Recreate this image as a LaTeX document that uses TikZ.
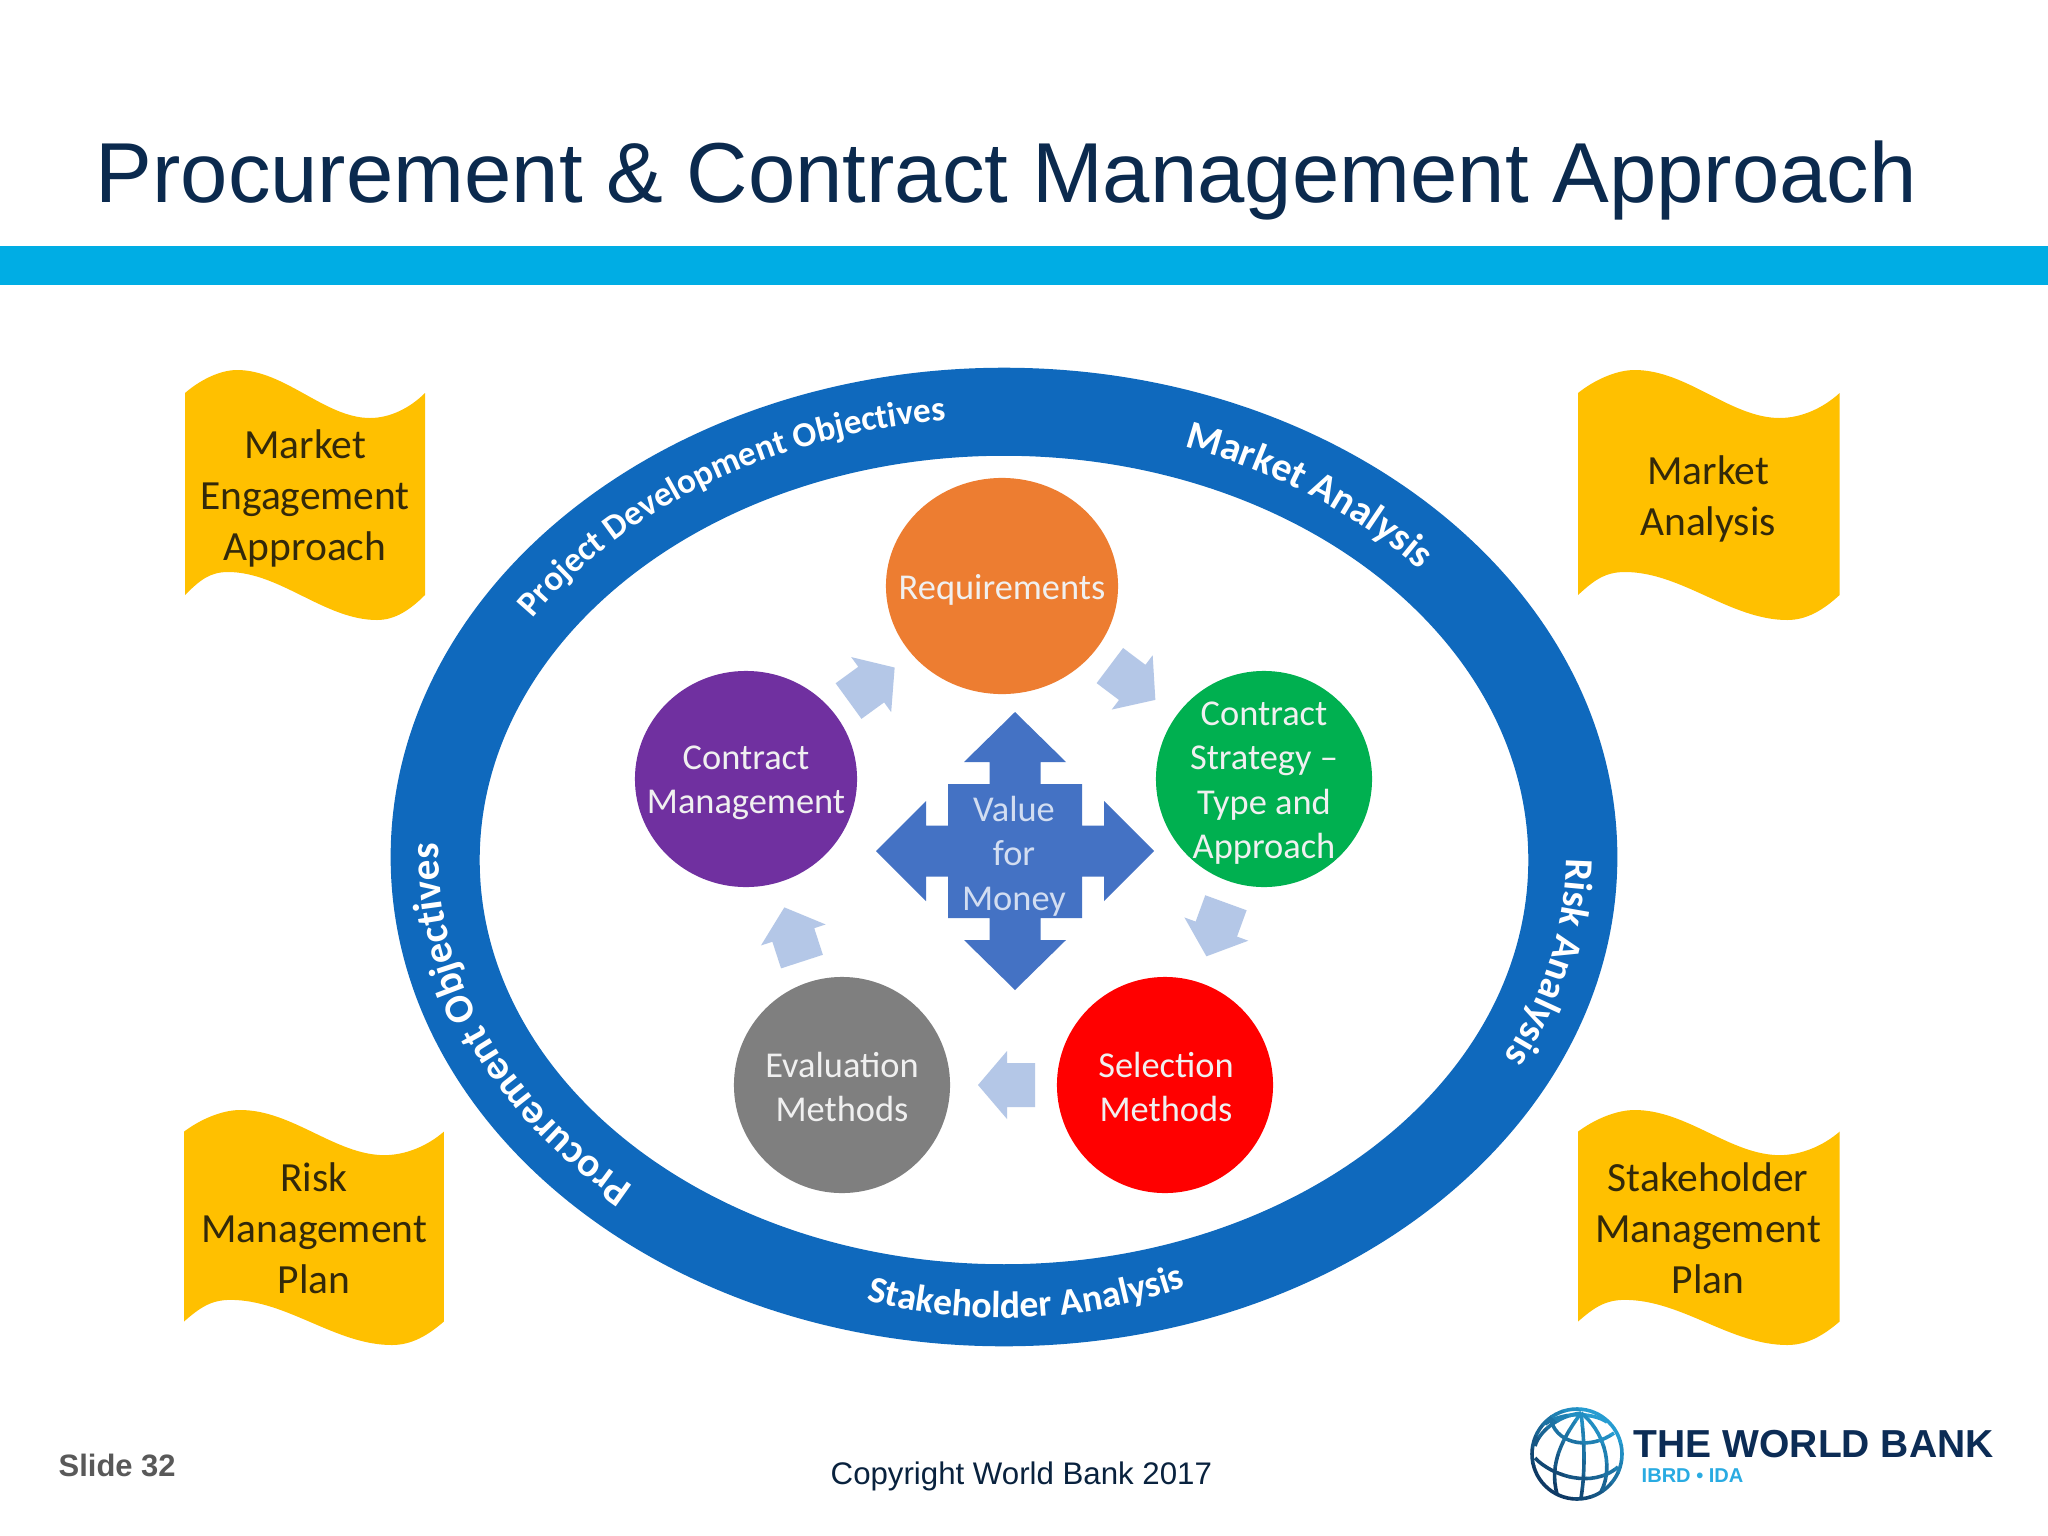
\documentclass[tikz,border=0pt]{standalone}
\usepackage{fontspec}
\setmainfont{Liberation Sans}
\newfontfamily\carlito{Carlito}
\usetikzlibrary{decorations.text}
\definecolor{titlenavy}{HTML}{0B2A4E}
\definecolor{barblue}{HTML}{00ADE4}
\definecolor{ringblue}{HTML}{0F69BD}
\definecolor{ribbongold}{HTML}{FFC000}
\definecolor{ribbontext}{HTML}{33290A}
\definecolor{crossblue}{HTML}{4472C4}
\definecolor{palearrow}{HTML}{B4C7E7}
\definecolor{circletext}{HTML}{F0F0F0}
\definecolor{logonavy}{HTML}{0C2C55}
\definecolor{logosky}{HTML}{29ABE2}
\definecolor{discorange}{HTML}{ED7D31}
\definecolor{discgreen}{HTML}{00B050}
\definecolor{discred}{HTML}{FF0000}
\definecolor{discgrey}{HTML}{7F7F7F}
\definecolor{discpurple}{HTML}{7030A0}
\newcommand\ringfont[1]{\carlito\bfseries\fontsize{#1}{13pt}\selectfont\color{white}}
\newcommand\ribbonshape[4]{%
  \fill[ribbongold,shift={(#1,#2)},xscale=#3,yscale=#4]
    (0,23) .. controls (15,10) and (35,0) .. (52,0)
    .. controls (100,0) and (140,48) .. (185,48)
    .. controls (205,48) and (225,38) .. (240,23)
    -- (240,225) .. controls (225,240) and (210,250) .. (192,250)
    .. controls (140,250) and (95,202) .. (43,202)
    .. controls (25,202) and (15,210) .. (0,225) -- cycle;}
\newcommand\blockarrow[3]{%
  \fill[palearrow,shift={(#1,#2)},rotate=#3]
    (-29,-22) -- (-1,-22) -- (-1,-34) -- (28,0) -- (-1,34) -- (-1,22) -- (-29,22) -- cycle;}
\newcommand\globelines{%
  \draw[logoline] (0,0) circle (45);
  \draw[logoline] (4,-41) .. controls (8,-10) and (8,20) .. (4,44);
  \draw[logoline] (4,-41) .. controls (-15,-15) and (-28,10) .. (-20,40);
  \draw[logoline] (4,-41) .. controls (25,-25) and (38,10) .. (24,38);
  \draw[logoline] (4,-41) .. controls (-20,-38) and (-38,-22) .. (-42,-8);
  \draw[logoline] (-26,-33) .. controls (-18,-8) and (15,-5) .. (37,-21);
  \draw[logoline] (-42,4) .. controls (-25,22) and (15,35) .. (41,13);
  \draw[logoline] (-32,-30) .. controls (-15,-42) and (15,-42) .. (30,-32);}
\tikzset{
  logoline/.style={line width=0.036cm},
  ribbonlabel/.style={text=ribbontext,align=center,inner sep=0pt,
    font=\carlito\fontsize{11.8pt}{14.5pt}\selectfont},
  circlelabel/.style={text=circletext,align=center,inner sep=0pt,
    font=\carlito\fontsize{10.35pt}{12.6pt}\selectfont}
}
\begin{document}
\begin{tikzpicture}[x=0.01cm,y=-0.01cm]
\useasboundingbox (0,0) rectangle (2048,1536);
\fill[white] (0,0) rectangle (2048,1536);
% title and bar
\node[anchor=base west,inner sep=0pt,text=titlenavy,font=\fontsize{24.2pt}{28pt}\selectfont] (title) at (95,202) {Procurement \& Contract Management Approach};
\fill[barblue] (0,246) rectangle (2048,285);
% ring
\fill[ringblue,even odd rule] (1004,857) ellipse [x radius=6.13cm,y radius=4.89cm]
  (1004,860) ellipse [x radius=5.24cm,y radius=4.04cm];
% ring labels
\path[decorate,decoration={text along path,text={|\ringfont{10pt}|Project Development Objectives}}]
  plot[domain=213:300,samples=80] ({1004+562*cos(\x)},{858+440*sin(\x)});
\path[decorate,decoration={text along path,text={|\ringfont{11.4pt}|Market Analysis}}]
  plot[domain=289:355,samples=60] ({1004+555*cos(\x)},{858+435*sin(\x)});
\path[decorate,decoration={text along path,text={|\ringfont{11.3pt}|Risk Analysis}}]
  plot[domain=0:70,samples=60] ({1004+562*cos(\x)},{858+435*sin(\x)});
\path[decorate,decoration={text along path,text={|\ringfont{11.7pt}|Procurement Objectives}}]
  plot[domain=131:210,samples=70] ({1004+565*cos(\x)},{858+435*sin(\x)});
\path[decorate,decoration={text along path,text={|\ringfont{10.7pt}|Stakeholder Analysis}}]
  plot[domain=0:70,samples=60] ({1004+500*cos(106-\x)},{858+460*sin(106-\x)});
% ribbons
\ribbonshape{185}{370}{1}{1}
\ribbonshape{1578}{370}{1.09}{1}
\ribbonshape{184}{1110}{1.083}{0.94}
\ribbonshape{1578}{1110}{1.09}{0.94}
\node[ribbonlabel] (r1) at (305,498) {Market\\Engagement\\Approach};
\node[ribbonlabel] (r2) at (1708,499) {Market\\Analysis};
\node[ribbonlabel] (r3) at (314,1228) {Risk\\Management\\Plan};
\node[ribbonlabel] (r4) at (1708,1228) {Stakeholder\\Management\\Plan};
% discs
\fill[discorange] (1002,586) ellipse [x radius=1.16cm,y radius=1.08cm];
\fill[discgreen] (1264,779) ellipse [x radius=1.08cm,y radius=1.08cm];
\fill[discred] (1165,1085) ellipse [x radius=1.08cm,y radius=1.08cm];
\fill[discgrey] (842,1085) ellipse [x radius=1.08cm,y radius=1.08cm];
\fill[discpurple] (746,779) ellipse [x radius=1.11cm,y radius=1.08cm];
\node[circlelabel] (d1) at (1002,590) {Requirements};
\node[circlelabel] (d2) at (1264,783) {Contract\\Strategy –\\Type and\\Approach};
\node[circlelabel] (d3) at (1166,1087) {Selection\\Methods};
\node[circlelabel] (d4) at (842,1087) {Evaluation\\Methods};
\node[circlelabel] (d5) at (746,783) {Contract\\Management};
% cross
\fill[crossblue,shift={(1015,851)}]
  (0,-139) -- (51,-89) -- (25.5,-89) -- (25.5,-67) -- (67,-67) -- (67,-25.5) -- (89,-25.5) -- (89,-50)
  -- (139,0) -- (89,50) -- (89,25.5) -- (67,25.5) -- (67,67) -- (25.5,67) -- (25.5,89) -- (51,89)
  -- (0,139) -- (-51,89) -- (-25.5,89) -- (-25.5,67) -- (-67,67) -- (-67,25.5) -- (-89,25.5) -- (-89,50)
  -- (-139,0) -- (-89,-50) -- (-89,-25.5) -- (-67,-25.5) -- (-67,-67) -- (-25.5,-67) -- (-25.5,-89) -- (-51,-89) -- cycle;
\node[circlelabel,text=palearrow!60!white] (d6) at (1014,856) {Value\\for\\Money};
% small arrows
\blockarrow{872}{684}{36}
\blockarrow{1133}{683}{-37}
\blockarrow{1216}{930}{-110}
\blockarrow{1006}{1085}{180}
\blockarrow{793}{934}{108}
% footer
\node[anchor=base west,inner sep=0pt,text=black!65,font=\bfseries\fontsize{8.8pt}{10pt}\selectfont] (slide) at (58,1476) {Slide 32};
\node[anchor=base west,inner sep=0pt,text=titlenavy!80!black,font=\fontsize{8.88pt}{11pt}\selectfont] (copy) at (830,1484) {Copyright World Bank 2017};
% logo
\foreach \i in {0,...,9}{
  \pgfmathtruncatemacro\p{100-\i*11}
  \begin{scope}[shift={(1577,1454)},color=logonavy!\p!logosky]
    \clip[rotate=50] ({-60+12*\i},-60) rectangle ({-60+12*\i+12.5},60);
    \globelines
  \end{scope}
}
\node[anchor=base west,inner sep=0pt,text=logonavy,font=\bfseries\fontsize{11.1pt}{13pt}\selectfont] (wb) at (1633,1457) {THE WORLD BANK};
\node[anchor=base west,inner sep=0pt,text=logosky,font=\bfseries\fontsize{5.7pt}{7pt}\selectfont] (ibrd) at (1641,1482) {IBRD • IDA};
\end{tikzpicture}
\end{document}
